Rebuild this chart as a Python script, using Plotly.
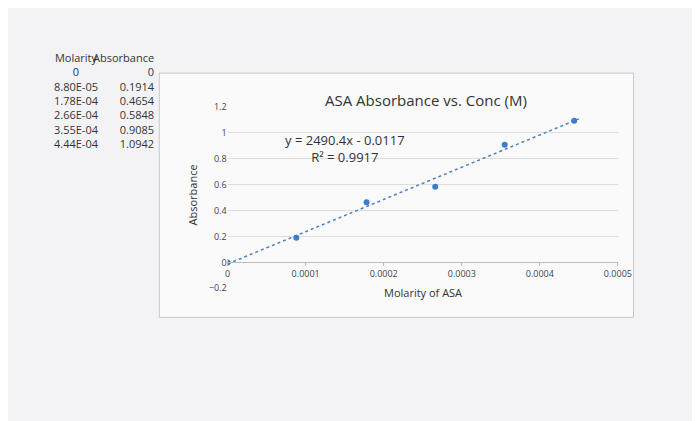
import plotly.graph_objects as go

molarity = [0, 8.8e-5, 1.78e-4, 2.66e-4, 3.55e-4, 4.44e-4]
absorb = [0, 0.1914, 0.4654, 0.5848, 0.9085, 1.0942]
mol_labels = ["0", "8.80E-05", "1.78E-04", "2.66E-04", "3.55E-04", "4.44E-04"]
abs_labels = ["0", "0.1914", "0.4654", "0.5848", "0.9085", "1.0942"]
slope, intercept = 2490.4, -0.0117
x_ticks = [0, 0.0001, 0.0002, 0.0003, 0.0004, 0.0005]
x_tick_text = ["0", "0.0001", "0.0002", "0.0003", "0.0004", "0.0005"]

W, H = 700, 421
def px(x): return x / W
def py(y): return 1 - y / H

fig = go.Figure()
fig.add_trace(go.Scatter(x=[0, 0.00045], y=[intercept, slope * 0.00045 + intercept], mode="lines",
                         line=dict(color="#4a7fc0", width=1.5, dash="dot"), hoverinfo="skip"))
fig.add_trace(go.Scatter(x=molarity, y=absorb, mode="markers",
                         marker=dict(color="#3f7ccc", size=6)))

ybot, ytop = py(282), py(95)
fig.update_layout(
    width=W, height=H, showlegend=False,
    margin=dict(l=0, r=0, t=0, b=0),
    paper_bgcolor="#f3f3f5", plot_bgcolor="rgba(0,0,0,0)",
    font=dict(family="Open Sans", color="#333"),
    xaxis=dict(domain=[px(222), px(622)], range=[0, 0.0005], tickvals=x_ticks, ticktext=x_tick_text,
               anchor="free", position=ybot + (ytop - ybot) / 7, showgrid=False, zeroline=False,
               showline=True, linecolor="#bbb", ticks="outside", ticklen=3, tickcolor="#bbb",
               tickfont=dict(size=9, color="#444")),
    yaxis=dict(domain=[ybot, ytop], range=[-0.2, 1.2], dtick=0.2, showgrid=True, gridcolor="#ddd",
               zeroline=False, tickfont=dict(size=9, color="#444"), tickformat="~g"),
)
fig.add_shape(type="rect", xref="paper", yref="paper", x0=px(152), x1=px(638), y0=py(312), y1=py(60),
              line=dict(color="#c8c8c8", width=1), fillcolor="#fafafa", layer="below")

ann = []
ann.append(dict(x=px(425), y=py(75), text="ASA Absorbance vs. Conc (M)", font=dict(size=15)))
ann.append(dict(x=px(342), y=py(118), yanchor="top", align="center",
                text="y = 2490.4x - 0.0117<br>R² = 0.9917", font=dict(size=13)))
ann.append(dict(x=px(422), y=py(296), text="Molarity of ASA", font=dict(size=11)))
ann.append(dict(x=px(176), y=py(186), text="Absorbance", textangle=-90, font=dict(size=11)))
ann.append(dict(x=px(42), y=py(34), yanchor="top", align="center",
                text="<br>".join(["Molarity"] + mol_labels), font=dict(size=11)))
ann.append(dict(x=px(116), y=py(34), yanchor="top", align="right", xanchor="center",
                text="<br>".join(["Absorbance"] + abs_labels), font=dict(size=11)))
for a in ann:
    a.update(xref="paper", yref="paper", showarrow=False)
    fig.add_annotation(**a)

fig.write_html("out.html")
